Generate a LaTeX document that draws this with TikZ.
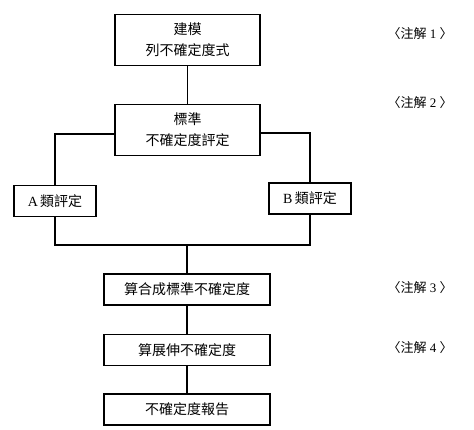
\documentclass[tikz,border=0pt]{standalone}
\usepackage{fontspec}
\setmainfont{Liberation Serif}
\newfontfamily\cjk{Noto Sans CJK TC}
\begin{document}
\begin{tikzpicture}[x=1pt,y=-1pt,
  box/.style={draw,line width=1.2pt,inner sep=0pt,align=center,font=\fontsize{14}{21}\selectfont\cjk},
  bigbox/.style={box,minimum width=145pt,minimum height=51pt},
  sidebox/.style={box,minimum width=82pt,minimum height=31pt},
  stepbox/.style={box,minimum width=166pt,minimum height=31pt},
  note/.style={inner sep=0pt,font=\fontsize{13}{15}\selectfont},
  conn/.style={line width=1.2pt}]
\useasboundingbox (0,0) rectangle (474,429);
\node[bigbox] (b1) at (187.5,40) {建模\\列不確定度式};
\node[bigbox] (b2) at (187.5,130) {標準\\不確定度評定};
\node[sidebox] (a) at (55,201) {{\rmfamily A}\,類評定};
\node[sidebox] (b) at (310,198.5) {{\rmfamily B}\,類評定};
\node[stepbox] (b3) at (187,289.5) {算合成標準不確定度};
\node[stepbox] (b4) at (187,350) {算展伸不確定度};
\node[stepbox] (b5) at (187,409.5) {不確定度報告};
\node[note] (n1) at (420,34) {{\cjk 〈注解}\ 1\ {\cjk 〉}};
\node[note] (n2) at (420,103) {{\cjk 〈注解}\ 2\ {\cjk 〉}};
\node[note] (n3) at (420,288) {{\cjk 〈注解}\ 3\ {\cjk 〉}};
\node[note] (n4) at (420,348) {{\cjk 〈注解}\ 4\ {\cjk 〉}};
\coordinate (j) at (187,245);
\draw[conn] (b1.south) -- (b2.north);
\draw[conn] ([yshift=-4pt]b2.west) -| (a.north);
\draw[conn] ([yshift=-3pt]b2.east) -| (b.north);
\draw[conn] (a.south) |- (j) -| (b.south);
\draw[conn] (j) -- (b3.north);
\draw[conn] (b3.south) -- (b4.north);
\draw[conn] (b4.south) -- (b5.north);
\end{tikzpicture}
\end{document}
